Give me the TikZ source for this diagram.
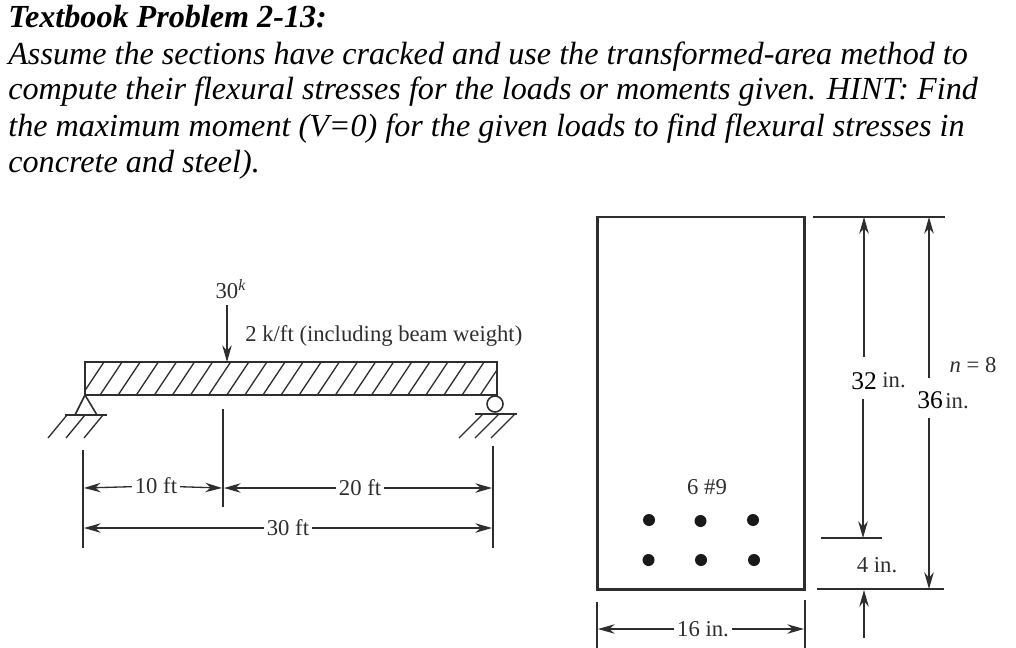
\documentclass[tikz,border=0pt]{standalone}
\usepackage{fontspec}
\setmainfont{Liberation Serif}
\usetikzlibrary{arrows.meta}
\definecolor{inkgray}{HTML}{2E2E2E}
\tikzset{
  headline/.style={anchor=base west, inner sep=0pt, font=\fontsize{18.3}{20}\selectfont\itshape},
  figlabel/.style={inner sep=1.5pt, text=inkgray, font=\fontsize{12.9}{14}\selectfont},
  darklabel/.style={inner sep=1.5pt, text=black, font=\fontsize{14.5}{16}\selectfont},
  thinline/.style={line width=0.75pt, draw=inkgray},
  dimline/.style={thinline, -{Stealth[length=9.5pt, width=5.4pt]}},
}
\begin{document}
\begin{tikzpicture}[line cap=butt, x=0.02cm, y=-0.02cm]
    \useasboundingbox (0,0) rectangle (1016,648);
    % problem text
    \node[headline, font=\fontsize{18.3}{20}\selectfont\itshape\bfseries] (title) at (8,28) {Textbook Problem 2-13:};
    \node[headline] (lineA) at (8,65) {Assume the sections have cracked and use the transformed-area method to};
    \node[headline] (lineB) at (8,100) {compute their flexural stresses for the loads or moments given. HINT: Find};
    \node[headline] (lineC) at (8,137) {the maximum moment (\textit{V}=0) for the given loads to find flexural stresses in};
    \node[headline] (lineD) at (8,173) {concrete and steel).};

    % beam
    \begin{scope}
        \clip (85,362) rectangle (497,395);
        \foreach \i in {0,...,23}
            \draw [thinline] ({82+18.1*\i},395) -- ({104+18.1*\i},362);
    \end{scope}
    \draw [thinline, line width=1pt] (85,362) rectangle (497,395);   % beam outline

    % left support
    \draw [thinline, line width=0.9pt] (75,415) -- (85,395) -- (97,415);
    \draw [thinline, line width=1.2pt] (65,415) -- (107,415);
    \foreach \x in {67,85,103}
        \draw [thinline] (\x,415) -- ({\x-19},438);

    % right support
    \draw [thinline, line width=0.9pt] (495,404) circle (8);
    \draw [thinline, line width=1.2pt] (475,414) -- (517,414);
    \foreach \x in {483,499,515}
        \draw [thinline] (\x,414) -- ({\x-24},438);

    % load
    \coordinate (loadtop) at (227,305);
    \coordinate (loadend) at (227,362);
    \draw [dimline] (loadtop) -- (loadend);     % 30k
    \node[figlabel] (loadlab) at (231,289) {30\textsuperscript{\textit{k}}};
    \node[figlabel, anchor=base west, inner sep=0pt] (udlab) at (245,341) {2 k/ft (including beam weight)};

    % beam dimensions
    \coordinate (extAtop) at (83,450);
    \coordinate (extAbot) at (83,548);
    \coordinate (extBtop) at (223,409);
    \coordinate (extBbot) at (223,507);
    \coordinate (extCtop) at (493,446);
    \coordinate (extCbot) at (493,548);
    \draw [thinline] (extAtop) -- (extAbot);
    \draw [thinline] (extBtop) -- (extBbot);
    \draw [thinline] (extCtop) -- (extCbot);
    \coordinate (dimAa) at (84,488);
    \coordinate (dimAb) at (222,488);
    \coordinate (dimBa) at (224,488);
    \coordinate (dimBb) at (492,488);
    \coordinate (dimCa) at (84,528);
    \coordinate (dimCb) at (492,528);
    \node[figlabel] (lab10) at (156,486) {10 ft};
    \node[figlabel] (lab20) at (360,488) {20 ft};
    \node[figlabel] (lab30) at (288,528) {30 ft};
    \draw [dimline] (lab10) -- (dimAa);
    \draw [dimline] (lab10) -- (dimAb);
    \draw [dimline] (lab20) -- (dimBa);
    \draw [dimline] (lab20) -- (dimBb);
    \draw [dimline] (lab30) -- (dimCa);
    \draw [dimline] (lab30) -- (dimCb);

    % section
    \draw [draw=inkgray, line width=1.7pt] (597,217) rectangle (804,589);
    \foreach \x/\y in {649/520,700.5/521,753/520,648.5/560,701/560,754/560}
        \fill [black!90] (\x,\y) circle (6);
    \node[figlabel] (barlab) at (707,487) {6 \#9};

    % section dimensions
    \coordinate (topA) at (813,217);
    \coordinate (topB) at (945,217);
    \coordinate (midA) at (821,538);
    \coordinate (midB) at (882,538);
    \coordinate (botA) at (817,589);
    \coordinate (botB) at (944,589);
    \draw [thinline] (topA) -- (topB);
    \draw [thinline] (midA) -- (midB);
    \draw [thinline] (botA) -- (botB);

    \coordinate (dTop) at (864,217);
    \coordinate (dGapa) at (864,357);
    \coordinate (dGapb) at (863,399);
    \coordinate (dMid) at (863,538);
    \node[darklabel] (lab32) at (864,381) {32};
    \node[figlabel, anchor=west, inner sep=0pt] (in32) at (882,380) {in.};
    \draw [dimline] (dGapa) -- (dTop);
    \draw [dimline] (dGapb) -- (dMid);

    \coordinate (eTop) at (929,217);
    \coordinate (eGapa) at (929,378);
    \coordinate (eGapb) at (929,418);
    \coordinate (eBot) at (929,589);
    \node[darklabel] (lab36) at (930,400) {36};
    \node[figlabel, anchor=west, inner sep=0pt] (in36) at (945,401) {in.};
    \draw [dimline] (eGapa) -- (eTop);
    \draw [dimline] (eGapb) -- (eBot);

    \node[figlabel] (lab4) at (877,565) {4 in.};
    \coordinate (gTail) at (864,638);
    \coordinate (gTip) at (864,590);
    \draw [dimline] (gTail) -- (gTip);
    \node[figlabel] (nlab) at (973,365) {\textit{n} = 8};

    \coordinate (hAtop) at (597,602);
    \coordinate (hAbot) at (597,648);
    \coordinate (hBtop) at (805,600);
    \coordinate (hBbot) at (805,648);
    \draw [thinline] (hAtop) -- (hAbot);
    \draw [thinline] (hBtop) -- (hBbot);
    \coordinate (hA) at (598,629);
    \coordinate (hB) at (804,629);
    \node[figlabel] (lab16) at (703,629) {16 in.};
    \draw [dimline] (lab16) -- (hA);
    \draw [dimline] (lab16) -- (hB);
\end{tikzpicture}
\end{document}
